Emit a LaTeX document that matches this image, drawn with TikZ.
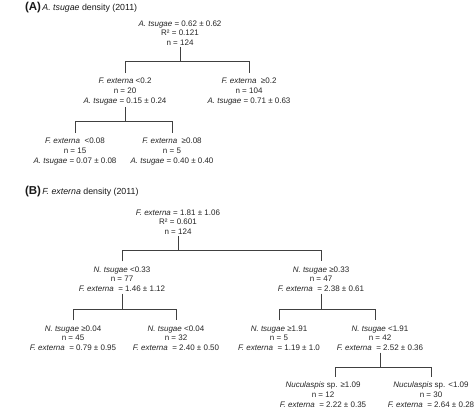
\documentclass[tikz,border=0pt]{standalone}
\usepackage{fontspec}
\setmainfont{Liberation Sans}
\begin{document}
\begin{tikzpicture}[x=1pt,y=-1pt,
 every node/.style={inner sep=0pt, outer sep=0pt},
 lab/.style={align=center, font=\fontsize{8}{9.7}\selectfont, text=black!85},
 ttl/.style={anchor=west, font=\fontsize{8.8}{11}\selectfont, text=black!90},
 conn/.style={draw=black!75, line width=0.7pt},
]
\useasboundingbox (0,0) rectangle (474,409);
\fill[white] (0,0) rectangle (474,409);

% ---------- (A) ----------
\node[ttl] (tA) at (25,8) {{\fontsize{11.5}{12}\selectfont\bfseries(A)}\,\textit{A. tsugae} density (2011)};
\node[lab] (rA) at (180,33) {\textit{A. tsugae} = 0.62 ± 0.62\\R² = 0.121\\n = 124};
\node[lab] (a1) at (125,91.5) {\textit{F. externa} <0.2\\n = 20\\\textit{A. tsugae} = 0.15 ± 0.24};
\node[lab] (a2) at (249,91.5) {\textit{F. externa}\ \ ≥0.2\\n = 104\\\textit{A. tsugae} = 0.71 ± 0.63};
\node[lab] (a11) at (75,151.5) {\textit{F. externa}\ \ <0.08\\n = 15\\\textit{A. tsugae} = 0.07 ± 0.08};
\node[lab] (a12) at (172,151.5) {\textit{F. externa}\ \ ≥0.08\\n = 5\\\textit{A. tsugae} = 0.40 ± 0.40};

\draw[conn] ([yshift=-2pt]rA.south) -- ++(0,14) coordinate (jA);
\draw[conn] ([yshift=5pt]a1.north) |- (jA) -| ([yshift=5pt]a2.north);
\draw[conn] ([yshift=-2pt]a1.south) -- ++(0,15) coordinate (jA1);
\draw[conn] ([yshift=5pt]a11.north) |- (jA1) -| ([yshift=5pt]a12.north);

% ---------- (B) ----------
\node[ttl] (tB) at (25,192) {{\fontsize{11.5}{12}\selectfont\bfseries(B)}\,\textit{F. externa} density (2011)};
\node[lab] (rB) at (178,222) {\textit{F. externa} = 1.81 ± 1.06\\R² = 0.601\\n = 124};
\node[lab] (b1) at (122,279) {\textit{N. tsugae} <0.33\\n = 77\\\textit{F. externa}\ \ = 1.46 ± 1.12};
\node[lab] (b2) at (321,279) {\textit{N. tsugae} ≥0.33\\n = 47\\\textit{F. externa}\ \ = 2.38 ± 0.61};
\node[lab] (b11) at (73,338) {\textit{N. tsugae} ≥0.04\\n = 45\\\textit{F. externa}\ \ = 0.79 ± 0.95};
\node[lab] (b12) at (176,338) {\textit{N. tsugae} <0.04\\n = 32\\\textit{F. externa}\ \ = 2.40 ± 0.50};
\node[lab] (b21) at (279,338) {\textit{N. tsugae} ≥1.91\\n = 5\\\textit{F. externa}\ \ = 1.19 ± 1.0};
\node[lab] (b22) at (380,338) {\textit{N. tsugae} <1.91\\n = 42\\\textit{F. externa}\ \ = 2.52 ± 0.36};
\node[lab] (b221) at (323,394.5) {\textit{Nuculaspis} sp. ≥1.09\\n = 12\\\textit{F. externa}\ \ = 2.22 ± 0.35};
\node[lab] (b222) at (431,394.5) {\textit{Nuculaspis} sp. <1.09\\n = 30\\\textit{F. externa}\ \ = 2.64 ± 0.28};

\draw[conn] ([yshift=-2pt]rB.south) -- ++(0,14) coordinate (jB);
\draw[conn] ([yshift=5pt]b1.north) |- (jB) -| ([yshift=5pt]b2.north);
\draw[conn] ([yshift=-2pt]b1.south) -- ++(0,16) coordinate (jB1);
\draw[conn] ([yshift=5pt]b11.north) |- (jB1) -| ([yshift=5pt]b12.north);
\draw[conn] ([yshift=-2pt]b2.south) -- ++(0,16) coordinate (jB2);
\draw[conn] ([yshift=5pt]b21.north) |- (jB2) -| ([xshift=-5pt,yshift=5pt]b22.north);
\draw[conn] ([yshift=-2pt]b22.south) -- ++(0,15) coordinate (jB22);
\draw[conn] ([xshift=12pt,yshift=5pt]b221.north) |- (jB22) -| ([yshift=5pt]b222.north);
\end{tikzpicture}
\end{document}
